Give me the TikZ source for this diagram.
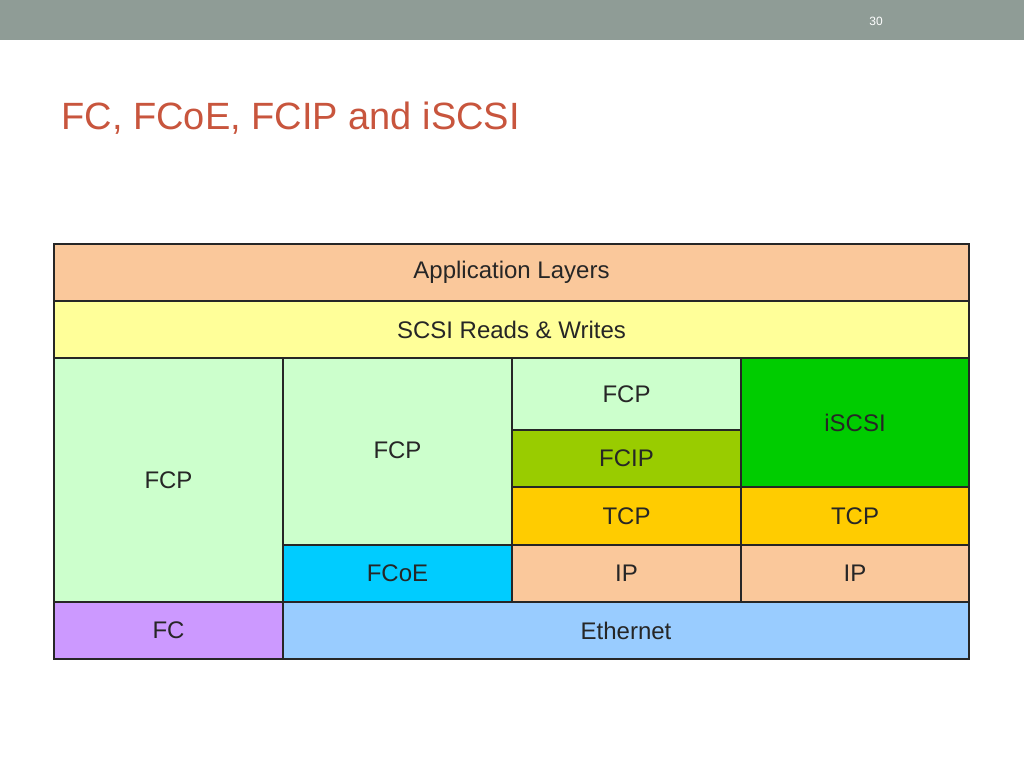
\documentclass[tikz,border=0pt]{standalone}
\usepackage{fontspec}
\setmainfont{Liberation Sans}
\begin{document}
\begin{tikzpicture}[x=1pt,y=-1pt,
  cell/.style={draw=black!85,line width=1.3pt},
  lab/.style={font=\fontsize{24}{28}\selectfont,text=black!85}]
\useasboundingbox (0,0) rectangle (1024,768);
\fill[white] (0,0) rectangle (1024,768);
\fill[color={rgb,255:red,143;green,156;blue,150}] (0,0) rectangle (1024,40);
\node[text=white,font=\fontsize{12}{14}\selectfont] (pg) at (876,21) {30};
\node[anchor=west,text={rgb,255:red,200;green,85;blue,61},font=\fontsize{38}{44}\selectfont] (title) at (58,118) {FC, FCoE, FCIP and iSCSI};
\definecolor{peach}{RGB}{250,200,155}
\definecolor{lyel}{RGB}{255,255,153}
\definecolor{lgrn}{RGB}{204,255,204}
\definecolor{olive}{RGB}{153,204,0}
\definecolor{grn}{RGB}{0,204,0}
\definecolor{gold}{RGB}{255,204,0}
\definecolor{cyan1}{RGB}{0,204,255}
\definecolor{lav}{RGB}{204,153,255}
\definecolor{sky}{RGB}{153,204,255}
\newcommand\cellbox[6]{\draw[cell,fill=#5] (#1,#2) rectangle (#3,#4); \node[lab] at ({(#1+#3)/2},{(#2+#4)/2}) {#6};}
\cellbox{54}{244}{969}{301}{peach}{Application Layers}
\cellbox{54}{301}{969}{358}{lyel}{SCSI Reads \& Writes}
\cellbox{54}{358}{283}{602}{lgrn}{FCP}
\draw[cell,fill=lgrn] (283,358) rectangle (512,545); \node[lab] at (397.5,450) {FCP};
\cellbox{512}{358}{741}{430}{lgrn}{FCP}
\cellbox{512}{430}{741}{487}{olive}{FCIP}
\cellbox{741}{358}{969}{487}{grn}{iSCSI}
\cellbox{512}{487}{741}{545}{gold}{TCP}
\cellbox{741}{487}{969}{545}{gold}{TCP}
\cellbox{283}{545}{512}{602}{cyan1}{FCoE}
\cellbox{512}{545}{741}{602}{peach}{IP}
\cellbox{741}{545}{969}{602}{peach}{IP}
\cellbox{54}{602}{283}{659}{lav}{FC}
\cellbox{283}{602}{969}{659}{sky}{Ethernet}
\end{tikzpicture}
\end{document}
